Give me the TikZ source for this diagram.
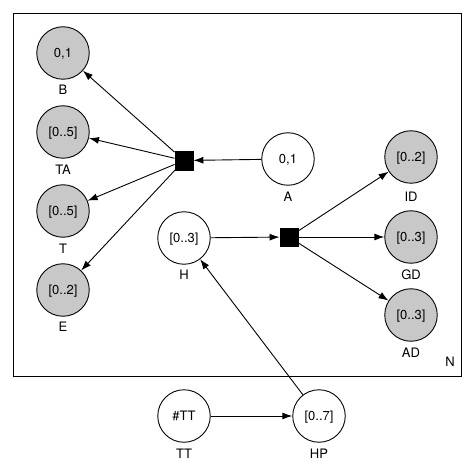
\documentclass[tikz,border=0pt]{standalone}
\usepackage{fontspec}
\setmainfont{TeX Gyre Heros}
\usetikzlibrary{arrows.meta}
\begin{document}
\begin{tikzpicture}[x=1pt,y=-1pt,
  txt/.style={font=\fontsize{13}{15}\selectfont, text height=9.2pt, text depth=0pt, inner sep=0pt},
  var/.style={circle, draw, line width=0.9pt, minimum size=52.5pt, inner sep=0pt, txt},
  obs/.style={var, fill={rgb,255:red,200;green,200;blue,200}},
  fac/.style={rectangle, fill=black, draw=black, minimum size=18.5pt, inner sep=0pt},
  lab/.style={txt},
  arr/.style={line width=0.9pt, -{Latex[length=10pt,width=7pt]}},
  lin/.style={line width=0.9pt}]
\useasboundingbox (0,0) rectangle (474,473);
\node[draw, line width=1pt, minimum width=448.5pt, minimum height=362.5pt, inner sep=0pt] (plate) at (237.5,195) {};
\node[lab] (Nl) at (450,362) {N};

\node[obs] (B) at (63,53) {0,1};
\node[lab] (Bl) at (63,90) {B};
\node[obs] (TA) at (63,132) {[0..5]};
\node[lab] (TAl) at (63,170) {TA};
\node[obs] (T) at (63,211) {[0..5]};
\node[lab] (Tl) at (63,249) {T};
\node[obs] (E) at (63,290) {[0..2]};
\node[lab] (El) at (63,327) {E};

\node[fac] (F1) at (184,160.5) {};
\node[var] (A) at (288,159) {0,1};
\node[lab] (Al) at (288,197) {A};

\node[obs] (ID) at (411,157) {[0..2]};
\node[lab] (IDl) at (411,197) {ID};
\node[var] (H) at (184,238) {[0..3]};
\node[lab] (Hl) at (184,275) {H};
\node[fac] (F2) at (289,237) {};
\node[obs] (GD) at (411,237) {[0..3]};
\node[lab] (GDl) at (411,275) {GD};
\node[obs] (AD) at (411,315) {[0..3]};
\node[lab] (ADl) at (411,353) {AD};

\node[var] (TT) at (184,416) {\#TT};
\node[lab] (TTl) at (184,454) {TT};
\node[var] (HP) at (319,416) {[0..7]};
\node[lab] (HPl) at (319,454) {HP};

\draw[arr] (A) -- (F1);
\draw[arr] (F1) -- (B);
\draw[arr] (F1) -- (TA);
\draw[arr] (F1) -- (T);
\draw[arr] (F1) -- (E);
\draw[arr] (H) -- (F2);
\draw[arr] (F2) -- (ID);
\draw[arr] (F2) -- (GD);
\draw[arr] (F2) -- (AD);
\draw[arr] (TT) -- (HP);
\draw[arr] (HP) -- (H);
\end{tikzpicture}
\end{document}
